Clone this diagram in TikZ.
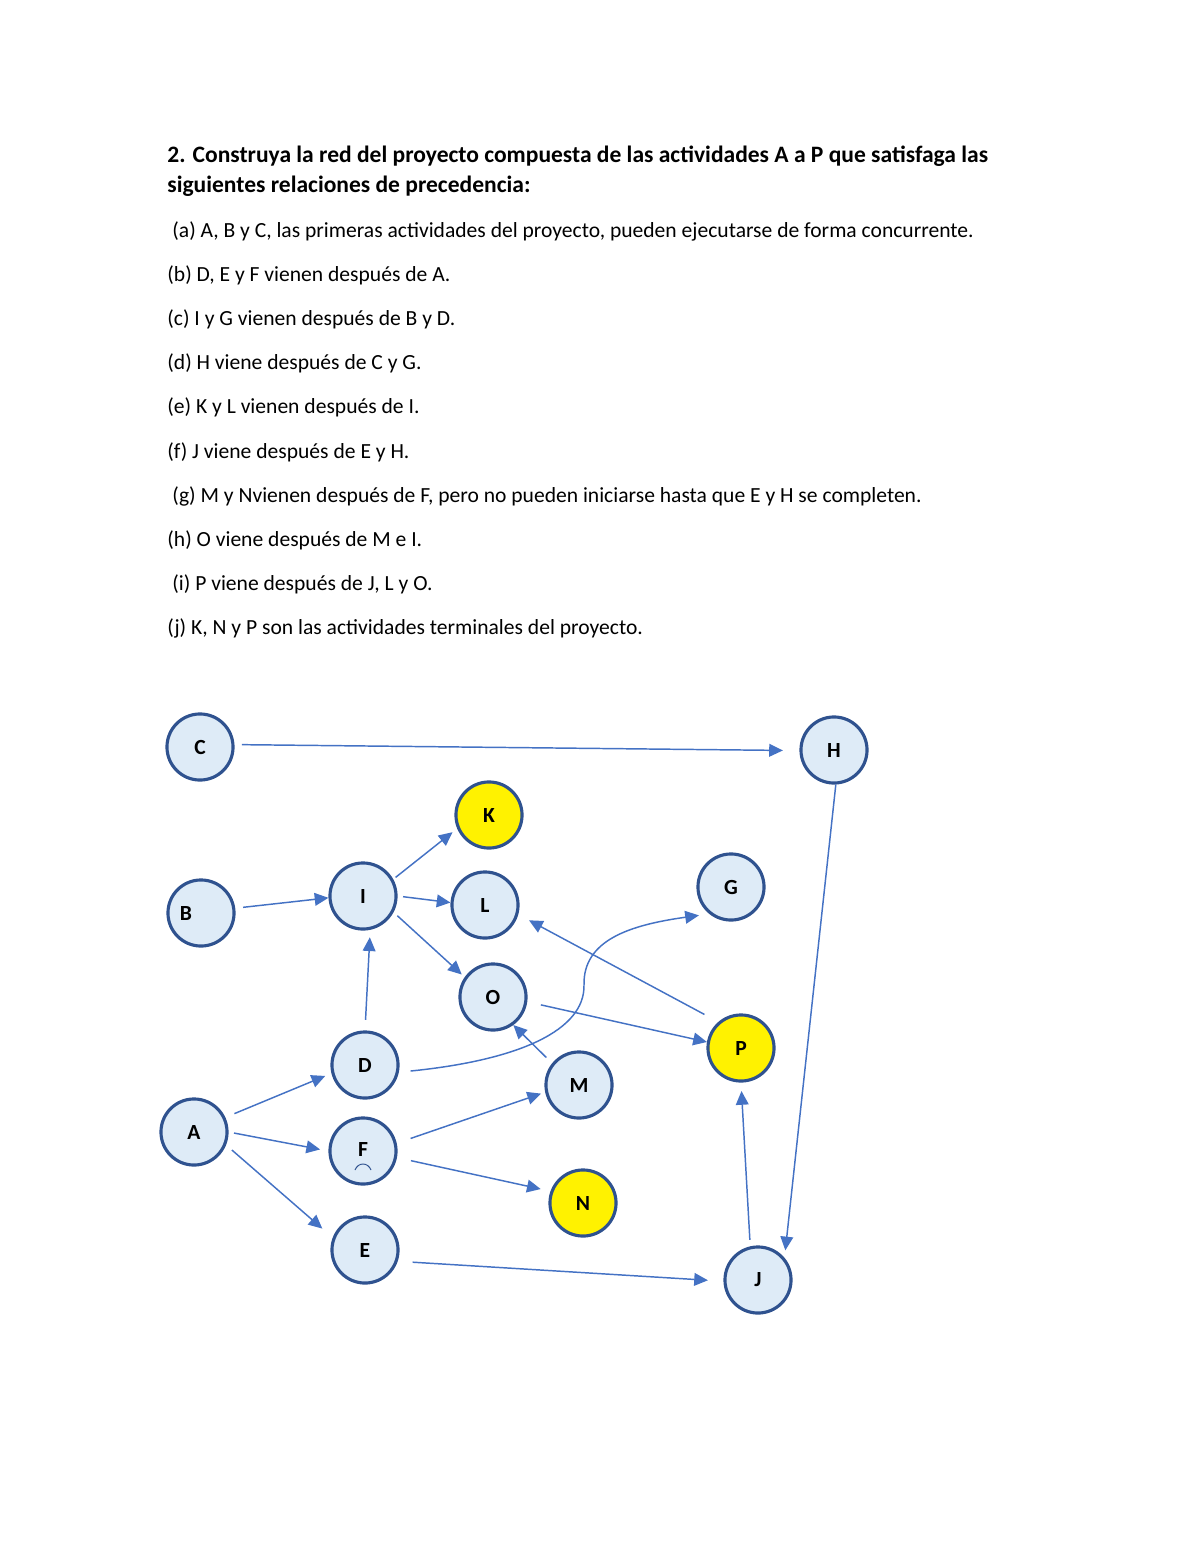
\documentclass[tikz,border=0pt]{standalone}
\usepackage{fontspec}
\setmainfont{Carlito}
\usetikzlibrary{arrows.meta}
\definecolor{nodeblue}{HTML}{DEEBF7}
\definecolor{borderblue}{HTML}{2F528F}
\definecolor{arrowblue}{HTML}{4472C4}
\begin{document}
\begin{tikzpicture}[x=0.51pt,y=-0.51pt,
  act/.style={circle, draw=borderblue, line width=1.6pt, fill=nodeblue, minimum size=33.7pt, inner sep=0pt, font=\fontsize{11}{13}\selectfont\bfseries},
  term/.style={act, fill=yellow},
  arr/.style={draw=arrowblue, line width=0.75pt, -{Triangle[length=7pt,width=6.5pt]}},
  txt/.style={anchor=west, inner sep=0pt, font=\fontsize{11}{13}\selectfont},
  ttl/.style={anchor=base west, inner sep=0pt, font=\fontsize{12}{14}\selectfont\bfseries}]
\useasboundingbox (0,0) rectangle (1200,1553);

% title and statements
\node[ttl] (t1) at (167,163) {2. Construya la red del proyecto compuesta de las actividades A a P que satisfaga las};
\node[ttl] (t2) at (167,193) {siguientes relaciones de precedencia:};
\node[txt] (la) at (172,231) {(a) A, B y C, las primeras actividades del proyecto, pueden ejecutarse de forma concurrente.};
\node[txt] (lb) at (167,275) {(b) D, E y F vienen después de A.};
\node[txt] (lc) at (167,319) {(c) I y G vienen después de B y D.};
\node[txt] (ld) at (167,363) {(d) H viene después de C y G.};
\node[txt] (le) at (167,407) {(e) K y L vienen después de I.};
\node[txt] (lf) at (167,452) {(f) J viene después de E y H.};
\node[txt] (lg) at (172,496) {(g) M y Nvienen después de F, pero no pueden iniciarse hasta que E y H se completen.};
\node[txt] (lh) at (167,540) {(h) O viene después de M e I.};
\node[txt] (li) at (172,584) {(i) P viene después de J, L y O.};
\node[txt] (lj) at (167,628) {(j) K, N y P son las actividades terminales del proyecto.};

% activities
\node[act] (C) at (200,747) {C};
\node[act] (H) at (834,750) {H};
\node[term] (K) at (489,815) {K};
\node[act] (G) at (731,887) {G};
\node[act] (B) at (201,913) {\hspace*{-30\dimexpr0.51pt\relax}B};
\node[act] (I) at (363,896) {I};
\node[act] (L) at (485,905) {L};
\node[act] (O) at (493,997) {O};
\node[term] (P) at (741,1048) {P};
\node[act] (D) at (365,1065) {D};
\node[act] (M) at (579,1085) {M};
\node[act] (A) at (194,1132) {A};
\node[act] (F) at (363,1151) {\raisebox{1.5pt}{F}};
\node[term] (N) at (583,1203) {N};
\node[act] (E) at (365,1250) {E};
\node[act] (J) at (758,1280) {J};
\draw[borderblue, line width=0.5pt] (355,1170) .. controls (358,1162) and (368,1162) .. (371,1170);
\coordinate (dg) at (584,985);

% precedences
\draw[arr, shorten <=3.8pt, shorten >=8.4pt] (C.4) -- (H.181);
\draw[arr, shorten >=3.8pt] (H.-87) -- (J.40);
\draw[arr, shorten <=4pt] (B.8) -- (I.183);
\draw[arr, shorten <=1.5pt, shorten >=3pt] (I.29) -- (K.203);
\draw[arr, shorten <=2.8pt] (I.0) -- (L.176);
\draw[arr, shorten <=2.6pt, shorten >=2pt] (I.-28) -- (O.145);
\draw[arr, shorten <=5.4pt, shorten >=3.8pt] (D.90) -- (I.-78);
\draw[arr, shorten <=8pt, shorten >=6.2pt] (P.131) -- (L.-16);
\draw[arr, shorten <=7.1pt] (O.-8) -- (P.170);
\draw[arr, shorten <=4.1pt] (M.141) -- (O.-54);
\draw[arr, shorten <=6pt, shorten >=5.3pt] (D.-12) .. controls (520,1060) and (585,1030) .. (dg) .. controls (583,940) and (630,925) .. (G.-129);
\draw[arr, shorten <=5pt, shorten >=3.4pt] (A.25) -- (D.194);
\draw[arr, shorten <=2.8pt, shorten >=4.3pt] (A.0) -- (F.180);
\draw[arr, shorten <=3.9pt, shorten >=7pt] (A.-22) -- (E.159);
\draw[arr, shorten <=7.5pt, shorten >=2.2pt] (F.13) -- (M.192);
\draw[arr, shorten <=7.3pt, shorten >=5.1pt] (F.-11) -- (N.160);
\draw[arr, shorten <=7.6pt, shorten >=7.9pt] (E.-19) -- (J.182);
\draw[arr, shorten <=3.3pt, shorten >=4.3pt] (J.103) -- (P.-90);
\end{tikzpicture}
\end{document}
